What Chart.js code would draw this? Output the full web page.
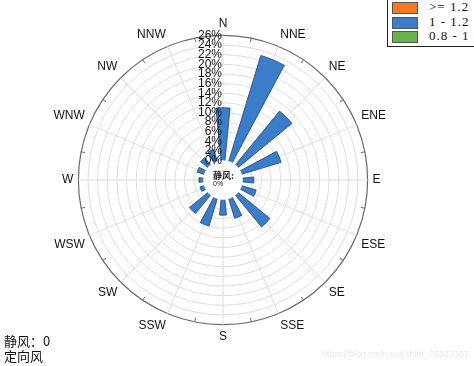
<!DOCTYPE html>
<html>
<head>
<meta charset="utf-8">
<script src="https://cdn.jsdelivr.net/npm/chart.js@4.4.0/dist/chart.umd.min.js"></script>
<style>
body { margin: 0; background: #fff; }
#wrap { position: relative; width: 474px; height: 366px; overflow: hidden; }
#wrap canvas { position: absolute; left: 0; top: 0; }
#legend { position: absolute; left: 387px; top: -1px; width: 95px; height: 46px; border: 1px solid #222; background: #fff;
  font-family: "Liberation Serif", serif; font-size: 13px; letter-spacing: 1px; color: #111; }
.row { position: absolute; left: 4px; }
.sw { position: absolute; left: 0; top: 0; width: 24px; height: 10px; border: 1px solid #555; }
.lb { position: absolute; left: 37px; top: -3px; white-space: nowrap; }
#note { position: absolute; left: 4px; top: 333px; font-family: "Noto Sans CJK SC", sans-serif; font-size: 13px; line-height: 15px; color: #111; }
#wm { position: absolute; left: 322px; top: 349px; font-family: "Liberation Sans", sans-serif; font-size: 9px; color: #e8e8e8; }
</style>
</head>
<body>
<div id="wrap">
  <canvas id="myChart" width="474" height="366"></canvas>
  <div id="legend"></div>
  <div id="note">静风：0<br>定向风</div>
  <div id="wm">https://blog.csdn.net/shiat_35373387</div>
</div>
<script>
// wind directions, clockwise from north
var directions = ['N', 'NNE', 'NE', 'ENE', 'E', 'ESE', 'SE', 'SSE', 'S', 'SSW', 'SW', 'WSW', 'W', 'WNW', 'NW', 'NNW'];
// frequency (%) of the 1 - 1.2 class
var freq = [11, 23, 14.5, 8.6, 2.4, 3.2, 8.6, 4.3, 3.3, 6, 5, 1, 1, 1.6, 2, 2.6];
var rTicks = [0, 2, 4, 6, 8, 10, 12, 14, 16, 18, 20, 22, 24, 26];
var speedClasses = ['>= 1.2', '1 - 1.2', '0.8 - 1'];
var speedColors = ['#f47a22', '#3a7ec9', '#6ab04c'];

var blue = speedColors[1];

// each direction gets a bar followed by an empty slot of the same width
var values = [];
for (var i = 0; i < freq.length; i++) {
    values.push(freq[i]);
    values.push(0);
}
// 4 label slots per direction so labels / spokes land on the bar centres
var slots = [];
for (var k = 0; k < directions.length * 4; k++) {
    slots.push(k % 4 === 1 ? directions[(k - 1) / 4] : '');
}

// legend
var legend = document.getElementById('legend');
for (var j = 0; j < speedClasses.length; j++) {
    var row = document.createElement('div');
    row.className = 'row';
    row.style.top = (2 + j * 14.5) + 'px';
    row.innerHTML = '<div class="sw" style="background:' + speedColors[j] + '"></div><div class="lb">' +
        speedClasses[j].replace('>', '&gt;') + '</div>';
    legend.appendChild(row);
}

var hole = {
    id: 'hole',
    beforeDatasetsDraw: function(chart) {
        // short ticks on the outer ring between the directions
        var r = chart.scales.r;
        var ctx = chart.ctx;
        ctx.save();
        ctx.strokeStyle = '#6a6a6a';
        ctx.lineWidth = 1;
        for (var n = 3; n < slots.length; n += 4) {
            var a = r.getPointPosition(n, r.drawingArea - 4);
            var b = r.getPointPosition(n, r.drawingArea);
            ctx.beginPath();
            ctx.moveTo(a.x, a.y);
            ctx.lineTo(b.x, b.y);
            ctx.stroke();
        }
        ctx.restore();
    },
    afterDatasetsDraw: function(chart) {
        var r = chart.scales.r;
        var ctx = chart.ctx;
        var rad = r.getDistanceFromCenterForValue(0);
        ctx.save();
        ctx.fillStyle = '#fff';
        ctx.beginPath();
        ctx.arc(r.xCenter, r.yCenter, rad + 0.5, 0, Math.PI * 2);
        ctx.fill();
        ctx.fillStyle = '#222';
        ctx.textBaseline = 'middle';
        ctx.textAlign = 'left';
        ctx.font = 'bold 9px "Noto Sans CJK SC"';
        ctx.fillText('静风:', r.xCenter - 10, r.yCenter - 4);
        ctx.font = '7px "Liberation Sans"';
        ctx.fillText('0%', r.xCenter - 10, r.yCenter + 4);
        // radius labels, right aligned against the N spoke, on top of the bars
        ctx.fillStyle = '#111';
        ctx.textAlign = 'right';
        ctx.font = '12px "Liberation Sans"';
        rTicks.forEach(function(v) {
            ctx.fillText(v + '%', r.xCenter - 1, r.yCenter - r.getDistanceFromCenterForValue(v));
        });
        ctx.restore();
    }
};

var ctx = document.getElementById('myChart');
var chart = new Chart(ctx, {
    type: 'polarArea',
    data: {
        labels: slots,
        datasets: [{
            label: speedClasses[1],
            data: values,
            backgroundColor: function(c) { return c.dataIndex % 2 ? 'rgba(0,0,0,0)' : blue; },
            borderColor: function(c) { return c.dataIndex % 2 ? 'rgba(0,0,0,0)' : '#1d3f73'; },
            borderWidth: 0.8
        }]
    },
    options: {
        responsive: false,
        animation: false,
        layout: { padding: { left: 33, right: 61, top: 16, bottom: 21 } },
        plugins: { legend: { display: false }, tooltip: { enabled: false } },
        scales: {
            r: {
                min: -4,
                max: 26,
                startAngle: -5.625,
                afterBuildTicks: function(scale) {
                    scale.ticks = [-4, -2].concat(rTicks).map(function(v) { return { value: v }; });
                },
                ticks: {
                    stepSize: 2,
                    showLabelBackdrop: false,
                    color: 'rgba(0,0,0,0)',   // drawn upright by the hole plugin instead
                    font: { family: 'Liberation Sans', size: 12 },
                    callback: function(v) { return v < 0 ? '' : v + '%'; }
                },
                grid: {
                    circular: true,
                    color: function(c) {
                        if (c.tick.value < 0) return 'rgba(0,0,0,0)';
                        return c.tick.value === 26 ? '#6a6a6a' : '#dedede';
                    },
                    lineWidth: function(c) { return c.tick.value === 26 ? 1.2 : 1; }
                },
                angleLines: {
                    display: true,
                    color: function(c) { return c.index % 4 === 1 ? '#dedede' : 'rgba(0,0,0,0)'; }
                },
                pointLabels: {
                    display: true,
                    padding: -3,
                    color: '#111',
                    font: { family: 'Liberation Sans', size: 12 }
                }
            }
        }
    },
    plugins: [hole]
});
</script>
</body>
</html>
